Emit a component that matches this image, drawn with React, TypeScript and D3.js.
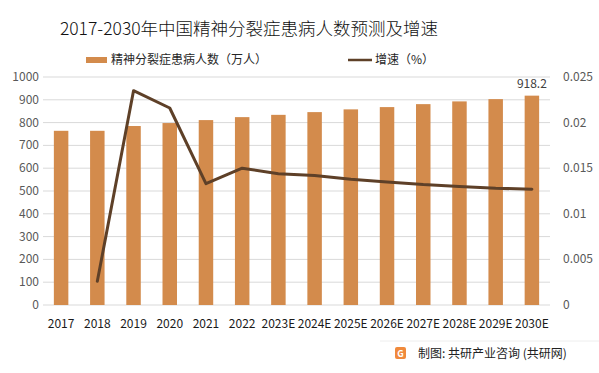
import React from "react"
import * as d3 from "d3"

const categories = ["2017", "2018", "2019", "2020", "2021", "2022", "2023E", "2024E", "2025E", "2026E", "2027E", "2028E", "2029E", "2030E"]
const patients = [764, 764, 785, 798, 811, 824, 834, 846, 858, 868, 881, 893, 903, 918.2]
const growth = [null, 0.0026, 0.0235, 0.0216, 0.0133, 0.015, 0.0144, 0.0142, 0.0138, 0.0135, 0.0132, 0.013, 0.0128, 0.0127]
const leftTicks = [0, 100, 200, 300, 400, 500, 600, 700, 800, 900, 1000]
const rightTicks = [0, 0.005, 0.01, 0.015, 0.02, 0.025]

const barColor = "#d38b4c"
const lineColor = "#5e4028"
const font = "'Noto Sans CJK SC', 'Noto Sans', sans-serif"

const App = () => {
  const width = 599
  const height = 373
  const left = 43
  const right = 550
  const top = 77
  const bottom = 305

  const x = d3.scaleBand().domain(categories).range([left, right]).paddingInner(0.6).paddingOuter(0.3)
  const yL = d3.scaleLinear().domain([0, 1000]).range([bottom, top])
  const yR = d3.scaleLinear().domain([0, 0.025]).range([bottom, top])

  const pts = categories
    .map((c, i) => (growth[i] == null ? null : [x(c)! + x.bandwidth() / 2, yR(growth[i] as number)]))
    .filter((p) => p != null) as [number, number][]

  const last = categories.length - 1

  return (
    <svg width={width} height={height} style={{ position: "absolute", left: 0, top: 0 }} fontFamily={font}>
      <rect width={width} height={height} fill="#fff" />
      <text x={249} y={35} textAnchor="middle" fontSize={17.5} fontWeight={300} fill="#111">
        2017-2030年中国精神分裂症患病人数预测及增速
      </text>

      {/* legend */}
      <rect x={86} y={57} width={21} height={6} fill={barColor} />
      <text x={111} y={64} fontSize={12} fill="#262626">精神分裂症患病人数（万人）</text>
      <line x1={348} x2={372} y1={60} y2={60} stroke={lineColor} strokeWidth={2.5} />
      <text x={375} y={64} fontSize={12} fill="#262626">增速（%）</text>

      {leftTicks.map((t) => (
        <g key={t}>
          <line x1={left} x2={right} y1={yL(t)} y2={yL(t)} stroke="#d9d9d9" strokeWidth={1} />
          <text x={39} y={yL(t) + 4} textAnchor="end" fontSize={12} fill="#595959">{t}</text>
        </g>
      ))}
      {rightTicks.map((t) => (
        <text key={t} x={563} y={yR(t) + 4} fontSize={12} fill="#595959">{t}</text>
      ))}

      {categories.map((c, i) => (
        <rect key={c} x={x(c)} y={yL(patients[i])} width={x.bandwidth()} height={bottom - yL(patients[i])} fill={barColor} />
      ))}
      <text x={x(categories[last])! + x.bandwidth() / 2} y={yL(patients[last]) - 8} textAnchor="middle" fontSize={12} fill="#404040">
        {patients[last]}
      </text>

      <path d={d3.line()(pts) ?? ""} fill="none" stroke={lineColor} strokeWidth={3} strokeLinejoin="round" strokeLinecap="round" />

      {categories.map((c) => (
        <text key={c} x={x(c)! + x.bandwidth() / 2} y={328} textAnchor="middle" fontSize={12} fill="#1a1a1a">{c}</text>
      ))}

      {/* footer */}
      <line x1={380} x2={599} y1={341} y2={341} stroke="#eeeeee" />
      <rect x={395} y={347} width={11} height={12} rx={2} fill="#f08a3c" />
      <text x={400.5} y={357} textAnchor="middle" fontSize={9} fontWeight="bold" fill="#fff">G</text>
      <text x={418} y={358} fontSize={12} fill="#222">制图: 共研产业咨询 (共研网)</text>
    </svg>
  )
}

export default App
